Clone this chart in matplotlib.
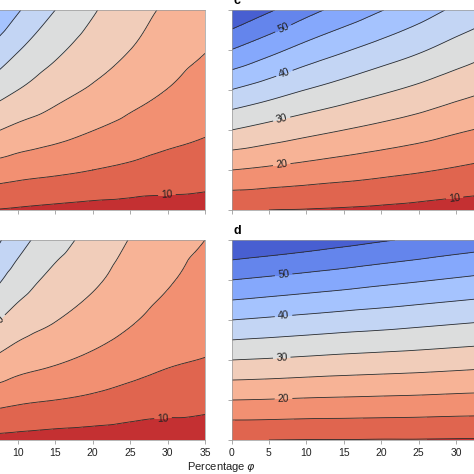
import numpy as np
import matplotlib
matplotlib.use('Agg')
import matplotlib.pyplot as plt
import matplotlib.tri as mtri

plt.rcParams['font.family'] = ['Liberation Sans', 'DejaVu Sans']

# grid on which the values were read (x = percentage, y = unlabelled axis 0..1)
x_vals = [0, 5, 10, 15, 20, 25, 30, 35]
y_vals = [0.0, 0.2, 0.4, 0.6, 0.8, 1.0]

# rows: y = 0 .. 1, columns: x = 0 .. 35
z_a = [[11.0, 10.2, 9.5, 8.9, 8.4, 8.2, 8.2, 8.1],
       [20.0, 18.5, 17.0, 16.0, 15.0, 14.0, 12.9, 12.1],
       [29.0, 26.5, 23.8, 22.0, 20.1, 18.4, 16.8, 15.6],
       [38.0, 34.0, 30.0, 26.8, 24.4, 21.9, 19.9, 17.6],
       [46.0, 41.0, 35.3, 31.1, 27.6, 25.0, 22.4, 20.2],
       [55.0, 47.5, 40.5, 35.0, 30.5, 27.0, 24.3, 22.2]]

z_b = [[9.5, 9.0, 8.5, 8.0, 7.7, 7.5, 7.6, 7.8],
       [19.0, 17.5, 15.9, 15.0, 14.1, 12.9, 11.9, 11.2],
       [28.0, 25.5, 22.4, 20.7, 19.0, 17.3, 15.7, 14.8],
       [36.0, 32.5, 27.8, 25.2, 22.8, 20.5, 18.4, 17.0],
       [43.0, 38.5, 32.6, 28.5, 25.9, 22.8, 20.4, 18.7],
       [50.0, 44.0, 37.0, 32.0, 28.3, 24.8, 21.6, 20.0]]

z_c = [[10.1, 10.0, 9.8, 9.5, 9.1, 8.6, 8.0, 7.4],
       [20.0, 19.1, 18.2, 17.3, 16.4, 15.5, 14.5, 13.5],
       [30.0, 28.2, 26.5, 25.0, 23.6, 22.2, 20.6, 19.2],
       [39.9, 37.4, 34.9, 32.8, 30.8, 28.9, 26.8, 24.9],
       [49.9, 46.5, 43.2, 40.5, 38.0, 35.6, 33.0, 30.6],
       [59.8, 55.6, 51.6, 48.3, 45.2, 42.3, 39.1, 36.3]]

z_d = [[10.0, 10.0, 9.9, 9.9, 9.8, 9.8, 9.7, 9.6],
       [20.0, 19.8, 19.5, 19.3, 19.1, 18.9, 18.6, 18.4],
       [30.0, 29.6, 29.1, 28.6, 28.2, 27.8, 27.3, 26.8],
       [40.0, 39.3, 38.6, 37.9, 37.3, 36.6, 35.9, 35.2],
       [50.0, 49.1, 48.2, 47.3, 46.3, 45.4, 44.5, 43.6],
       [60.0, 58.9, 57.8, 56.6, 55.4, 54.3, 53.1, 52.0]]

levels = [5, 10, 15, 20, 25, 30, 35, 40, 45, 50, 55, 60]
label_levels = [10, 20, 30, 40, 50]
plain_levels = [5, 15, 25, 35, 45, 55, 60]
xticks = [0, 5, 10, 15, 20, 25, 30, 35]


def smooth(z):
    # let matplotlib's tri refiner smooth the coarse grid
    xx, yy = np.meshgrid(np.array(x_vals) / 35.0, y_vals)
    tri = mtri.Triangulation(xx.ravel(), yy.ravel())
    zr = np.ravel(z)
    interp = mtri.CubicTriInterpolator(tri, zr, kind='geom')
    tri_f, z_f = mtri.UniformTriRefiner(tri).refine_field(zr, triinterpolator=interp, subdiv=4)
    return mtri.Triangulation(tri_f.x * 35, tri_f.y, tri_f.triangles), z_f


def panel(ax, z, labels, tick_labels):
    t, zf = smooth(z)
    ax.tricontourf(t, zf, levels=levels, cmap='coolwarm_r', extend='both')
    ax.tricontour(t, zf, levels=plain_levels, colors='#2b2b2b', linewidths=0.6)
    cs = ax.tricontour(t, zf, levels=label_levels, colors='#2b2b2b', linewidths=0.6)
    if labels:
        ax.clabel(cs, manual=labels, fmt='%d', fontsize=7.5,
                  inline=True, inline_spacing=3, colors='#222222')
    ax.set_xlim(0, 35)
    ax.set_ylim(0, 1)
    ax.set_xticks(xticks)
    ax.set_yticks([0, 0.2, 0.4, 0.6, 0.8, 1.0])
    ax.tick_params(length=3, width=0.5, color='#888888', labelsize=7.5,
                   labelcolor='#222222', pad=3)
    ax.set_yticklabels([])
    ax.set_xticklabels(tick_labels)
    for s in ax.spines.values():
        s.set_color('#999999')
        s.set_linewidth(0.5)


fig = plt.figure(figsize=(4.74, 4.74), dpi=100)
W = 474.0
def box(l, t, w, h):
    return [l / W, 1 - (t + h) / W, w / W, h / W]

ax_a = fig.add_axes(box(-57, 10, 262, 200))
ax_c = fig.add_axes(box(231.5, 10, 262, 200))
ax_b = fig.add_axes(box(-57, 240, 262, 200))
ax_d = fig.add_axes(box(231.5, 240, 262, 200))

no_labels = [''] * len(xticks)
# the picture is cropped: 0 and 5 of the left panels and 35 of the right ones fall outside
left_labels = ['', ''] + [str(v) for v in xticks[2:]]
right_labels = [str(v) for v in xticks[:-1]] + ['']

panel(ax_a, z_a, [(29.9, 0.08)], no_labels)
panel(ax_c, z_c, [(6.95, 0.905), (7.1, 0.68), (6.7, 0.455), (6.7, 0.23), (29.8, 0.065)], no_labels)
panel(ax_b, z_b, [(29.4, 0.105), (6.95, 0.615)], left_labels)
panel(ax_d, z_d, [(6.95, 0.83), (6.95, 0.62), (6.7, 0.42), (6.95, 0.21)], right_labels)

fig.text(237 / W, 1 - 1 / W, 'c', fontsize=9, fontweight='bold', ha='center', va='center')
fig.text(237 / W, 1 - 231 / W, 'd', fontsize=9, fontweight='bold', ha='center', va='center')
fig.text(222 / W, 1 - 467 / W, 'Percentage $\\varphi$', fontsize=8, ha='center', va='center',
         color='#222222')

fig.savefig('out.png', dpi=100)
